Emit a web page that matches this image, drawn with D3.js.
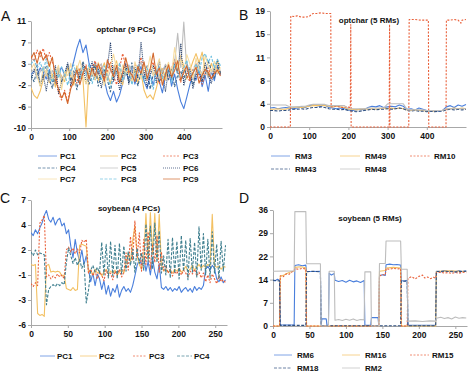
<!DOCTYPE html>
<html><head><meta charset="utf-8">
<script src="https://cdn.jsdelivr.net/npm/d3@7"></script>
<style>body{margin:0;background:#fff;} svg{display:block;} text{font-family:"Liberation Sans",Arial,sans-serif;}</style>
</head><body><svg id="c" width="474" height="380"></svg>
<script>
// ---------- Panel A: optchar (9 PCs), sampled every 8 observations ----------
const optStep = 8;
const optPC1 = [0.5,1.2,0.3,1.8,0.9,-0.4,1.5,0.2,-1.3,0.8,1.9,0.4,2.2,1.0,3.1,5.6,7.4,4.8,6.3,2.7,1.2,2.9,0.6,1.8,-0.5,-3.2,-4.6,-2.8,-4.9,-3.5,-1.2,0.9,-0.3,1.7,-1.4,0.5,2.1,-0.8,-2.3,0.4,-1.6,1.3,-0.9,-3.1,0.2,1.5,-1.8,0.6,-2.4,-4.8,-6.2,-3.9,-1.5,0.8,-0.6,1.4,-1.9,0.3,-2.8,1.1,-0.7,2.3,0.4];
const optPC2 = [-2.1,-3.6,-4.2,-2.8,-0.5,1.2,-1.1,0.6,-2.0,1.4,0.2,-0.9,1.8,0.3,-1.6,2.2,0.8,-0.4,-9.8,1.9,0.4,2.6,-0.7,1.1,2.8,0.5,-1.3,1.6,3.2,0.1,-1.5,2.0,0.6,-0.8,1.5,-1.1,0.9,-2.6,-4.1,-3.5,-4.4,-2.2,0.3,1.7,-0.6,2.4,0.8,3.5,1.2,4.2,2.1,-0.4,1.3,3.1,4.6,2.8,4.9,1.5,0.2,2.7,1.0,3.3,0.6];
const optPC3 = [4.2,3.1,5.3,4.0,5.6,3.4,4.8,2.9,1.2,-3.1,-4.5,-2.6,-4.9,-1.8,0.5,-1.2,1.6,0.2,2.4,-0.7,1.9,3.2,0.6,2.5,-0.4,1.1,3.0,0.3,-1.5,1.8,4.6,2.2,0.9,-0.6,2.7,1.3,3.9,0.4,-0.8,1.6,2.9,0.1,-1.3,0.8,2.2,-0.5,1.7,3.4,0.6,-1.0,1.9,0.3,-0.9,1.5,2.6,0.2,-1.4,0.7,1.8,-0.3,0.9,1.6,0.5];
const optPC4 = [0.3,-0.9,1.5,-1.7,0.6,2.1,-0.4,-2.2,0.9,1.8,-1.1,0.4,2.5,-0.8,1.2,-2.5,0.7,3.1,1.0,-1.4,0.2,2.3,-1.8,0.5,1.4,-0.6,-2.9,0.8,2.0,-1.2,0.3,1.6,-0.9,2.8,0.1,-1.7,1.1,-0.3,2.2,-2.4,0.6,1.3,-1.0,0.9,2.4,-0.5,1.7,-1.9,0.4,1.2,-0.8,2.6,0.0,-1.5,1.0,2.9,-0.7,0.5,3.2,1.4,-0.2,2.1,0.8];
const optPC5 = [0.8,1.6,-0.3,1.1,2.0,0.4,-0.8,1.3,0.2,1.9,-0.5,0.7,2.3,1.0,-0.2,1.5,0.3,2.1,0.9,-0.7,1.4,0.1,1.8,2.6,0.5,-0.4,1.2,2.2,0.6,1.7,-0.9,0.8,2.4,1.1,0.0,1.6,2.9,0.7,-0.6,1.3,0.4,2.0,-0.3,1.0,2.5,1.5,0.2,2.8,8.6,1.9,10.8,1.2,0.5,-0.5,1.1,2.0,0.3,1.4,-0.2,0.9,1.7,0.6,1.2];
const optPC6 = [-0.5,1.2,2.4,-1.6,0.3,-2.7,1.1,-0.9,2.2,-3.2,-1.0,0.6,2.8,-1.8,0.4,1.6,-0.3,2.5,-1.2,0.9,3.0,-0.6,1.7,-2.1,0.5,2.0,6.8,-0.8,1.3,-2.6,0.2,2.7,-1.4,0.7,1.9,-0.2,6.9,1.0,-1.9,0.4,2.3,-1.1,3.2,0.1,-2.8,1.5,-0.4,2.6,0.8,6.6,-1.7,0.6,1.8,-2.3,0.3,1.2,-0.9,2.9,0.5,-1.3,1.6,3.4,0.7];
const optPC7 = [1.5,2.6,0.2,-1.8,1.9,0.7,3.1,-0.5,0.9,2.3,-2.5,1.0,0.3,2.7,-0.9,1.4,3.3,0.5,-1.4,2.1,0.8,-0.6,2.9,1.2,-1.7,0.4,2.2,4.5,1.6,-0.3,2.4,0.6,1.8,-1.2,3.0,0.9,-0.4,2.5,1.1,4.1,0.2,1.7,3.6,-0.8,1.3,2.9,0.5,5.8,2.0,3.4,1.0,4.4,2.6,-0.2,3.7,1.4,0.3,4.2,2.2,1.0,3.1,0.8,1.9];
const optPC8 = [2.5,3.4,1.8,2.9,1.2,3.6,0.4,-1.0,1.5,-0.2,2.0,0.7,-1.6,1.1,2.4,0.3,-0.8,1.9,0.5,2.6,-1.3,0.8,1.6,-0.5,2.2,0.1,-2.0,1.3,0.6,2.8,-0.7,1.0,1.9,-1.5,0.4,2.3,0.9,-0.9,1.7,0.2,-2.4,1.2,2.0,-0.3,0.8,1.5,-1.1,2.4,0.5,-0.6,1.8,3.3,-0.4,1.1,2.6,0.7,3.8,4.6,2.9,4.1,1.8,3.5,2.2];
const optPC9 = [3.6,4.8,2.7,5.1,3.3,4.4,2.1,3.9,-0.6,-2.4,-4.1,-3.0,-5.2,-2.3,-0.9,1.4,-1.5,0.8,2.0,-0.4,1.7,0.2,2.6,1.0,-0.8,3.4,1.5,0.1,2.3,-1.1,0.9,3.8,1.2,0.4,-0.9,2.1,0.7,3.0,-0.3,1.6,4.7,0.5,1.8,-1.6,0.6,2.4,0.0,1.3,3.2,-0.7,1.0,2.2,-0.5,0.8,1.9,-1.2,0.4,1.5,0.9,-0.3,0.6,1.4,0.2];
const optNamesA = ["PC1","PC2","PC3","PC4","PC5","PC6","PC7","PC8","PC9"];
const aYTicks = [-10,-5.8,-1.6,2.6,6.8,11];
const aXTicks = [0,100,200,300,400];

// ---------- Panel B: optchar (5 RMs), sampled every 10 observations ----------
const rmStep = 10;
const optRM3  = [3.1,3.2,3.0,3.1,3.2,3.1,3.0,3.1,3.3,3.2,3.5,3.6,3.5,3.4,3.6,3.2,3.1,3.0,3.1,3.0,2.8,2.7,2.8,2.9,2.8,3.2,3.4,3.3,3.5,3.2,3.3,3.4,3.3,3.6,3.4,2.9,3.0,2.8,3.1,2.9,2.7,2.6,2.7,2.6,2.7,3.3,3.5,3.2,3.6,3.4,3.7];
const optRM49 = [2.9,2.9,3.0,2.9,2.9,3.1,3.2,3.3,3.2,3.3,3.4,3.5,3.5,3.6,3.5,3.4,3.3,3.4,3.3,3.2,2.9,2.9,2.8,2.9,3.0,2.9,3.0,2.9,3.0,3.1,3.0,3.1,3.0,3.1,3.0,2.8,2.7,2.8,2.7,2.7,2.6,2.7,2.6,2.7,2.7,2.9,3.0,3.1,3.0,3.1,3.0];
const optRM43 = [2.7,2.7,2.6,2.7,2.7,2.8,2.9,2.9,3.0,2.9,3.1,3.2,3.2,3.3,3.2,3.0,2.9,2.9,2.8,2.9,2.7,2.6,2.5,2.6,2.7,2.8,2.9,2.8,2.9,2.9,3.0,2.9,3.0,3.1,3.0,2.7,2.6,2.7,2.6,2.6,2.5,2.6,2.5,2.6,2.6,2.8,2.9,2.8,2.9,2.8,2.9];
const optRM48 = [3.6,3.6,3.6,3.6,3.6,3.3,3.3,3.3,3.4,3.4,3.6,3.7,3.7,3.7,3.7,3.5,3.5,3.5,3.5,3.5,3.0,3.0,3.0,3.0,3.0,3.1,3.1,3.1,3.1,3.1,3.8,3.8,3.8,3.8,3.8,2.8,2.8,2.8,2.8,2.8,2.7,2.7,2.7,2.7,2.7,3.0,3.0,3.0,3.0,3.0,3.0];
// RM10 given as [observation, value] pairs (step-like series)
const optRM10 = [[0,0],[52,0],[53,18.2],[60,18.1],[70,18.2],[80,18.0],[90,18.0],[100,18.1],[105,18.4],[110,18.6],[120,18.6],[130,18.7],[140,18.6],[155,18.6],[156,3.3],[170,3.4],[185,3.2],[195,3.3],[205,3.2],[206,16.8],[207,0],[304,0],[305,16.8],[306,0],[354,0],[355,17.6],[370,17.6],[385,17.5],[404,17.5],[405,0],[449,0],[450,17.5],[460,17.5],[470,17.6],[480,17.5],[487,17.0],[490,17.5],[500,17.6]];
const bYTicks = [0,3.8,7.6,11.4,15.2,19];
const bXTicks = [0,100,200,300,400];

// ---------- Panel C: soybean (4 PCs), sampled every 3 observations ----------
const soyStep = 3;
const soyPC1 = [3.6,3.3,3.9,3.5,4.1,4.6,5.4,5.9,5.0,4.7,5.2,4.4,4.9,5.1,4.3,4.6,3.5,3.9,2.2,1.0,2.9,1.5,0.6,1.8,0.3,1.2,-0.2,-1.5,-0.6,-1.9,-0.7,-1.2,-2.3,-1.4,-2.8,-1.9,-3.0,-2.2,-2.6,-1.8,-3.1,-2.4,-2.0,-2.5,-2.2,-2.6,-1.9,-0.9,0.2,0.8,0.3,1.1,-0.4,0.6,-0.8,0.9,-0.5,-1.2,0.4,-2.1,-2.3,-2.0,-2.4,-2.1,-2.5,-2.2,-2.4,-2.0,-2.6,-2.3,-2.1,-2.5,-2.2,-2.6,-2.0,-2.4,-2.1,-2.3,-1.9,-0.2,0.1,-0.3,0.2,-0.1,-1.2,-1.5,-1.0,-1.6,-1.3];
const soyPC2 = [0.3,0.2,0.3,-4.8,-5.0,-4.9,-5.1,0.2,0.3,-0.5,-0.4,-0.5,-0.4,-0.5,-0.9,-0.8,-2.2,-2.3,-2.4,-2.1,-2.4,-2.3,2.3,2.4,2.3,2.2,-0.5,-0.3,-0.8,-0.2,-0.6,-0.4,-0.9,-0.5,-0.2,-0.7,-0.4,-0.6,-0.3,-0.8,-0.5,-0.2,-0.6,0.4,1.5,0.6,2.8,4.3,1.2,0.3,-0.2,1.0,5.6,0.8,5.7,1.4,5.6,0.9,5.5,0.2,-0.4,-0.2,-0.5,-0.3,-0.6,-0.2,-0.4,-0.1,-0.5,-0.3,0.1,-0.4,-0.2,0.2,-0.3,0.0,0.3,-0.1,0.2,0.0,0.3,0.1,5.5,0.2,0.0,0.1,-0.2,0.1,0.0];
const soyPC3 = [-1.7,-2.0,-1.6,-1.9,4.6,4.9,5.4,-1.0,-0.8,-1.2,-0.9,-1.1,-0.7,-1.0,-0.8,-1.2,1.8,2.1,1.6,2.0,1.4,1.9,1.5,2.8,2.6,2.9,-0.6,-0.2,-0.9,-0.4,-1.2,-0.5,-0.8,-1.4,-0.3,-0.9,-0.6,-1.3,-0.4,-0.8,-0.2,-1.0,-0.5,1.5,-0.3,3.2,0.8,4.8,1.0,3.6,-0.4,2.9,0.3,3.7,-0.2,2.4,0.5,3.3,-0.5,1.6,-0.3,0.2,-0.6,-0.2,-0.9,-0.4,-0.7,-0.1,-0.8,-0.3,-0.6,-1.0,-0.4,-0.7,-0.2,-0.9,-0.5,-1.1,-0.6,-1.5,-0.8,-1.6,-0.7,-1.2,-1.7,-0.9,-1.5,-1.3,-1.6];
const soyPC4 = [1.6,1.2,1.8,1.3,1.5,1.4,1.3,-3.9,-2.3,-2.0,-1.8,-2.0,-1.7,-1.9,-1.6,-1.8,0.5,2.0,1.2,0.4,1.0,0.2,0.8,-0.1,0.5,-3.7,-2.4,-0.3,0.2,-0.5,0.0,-0.6,2.6,-0.8,2.4,-1.1,2.7,-0.9,2.3,-1.2,2.5,-0.7,2.2,-0.4,1.6,0.2,1.9,-0.5,2.0,0.4,1.5,-0.3,4.5,0.6,4.3,-0.2,4.6,0.5,3.8,-0.6,1.2,-0.8,2.9,-1.1,3.1,-0.6,2.7,-1.2,3.3,-0.4,2.8,-1.3,3.0,-0.5,2.6,-1.0,4.2,-0.3,3.5,-0.8,2.9,-1.1,3.7,-0.6,2.4,-1.2,2.7,-0.4,2.3];
const cYTicks = [-6,-3.4,-0.8,1.8,4.4,7];
const cXTicks = [0,50,100,150,200,250];

// ---------- Panel D: soybean (5 RMs), [observation, value] pairs ----------
const soyRM6 = [[0,14.3],[3,14.0],[6,14.5],[9,14.2],[10,0.3],[29,0.3],[30,18.8],[35,19.0],[40,18.7],[45,18.9],[46,17.0],[55,16.9],[65,17.0],[66,0.2],[67,2.2],[73,2.2],[74,0.2],[76,0.2],[77,16.4],[80,15.8],[84,16.3],[85,14.2],[90,13.8],[95,14.1],[100,13.6],[105,14.2],[110,13.7],[115,14.0],[120,13.5],[125,14.1],[126,0.2],[134,0.2],[135,2.6],[144,2.6],[145,0.3],[146,15.6],[150,15.9],[154,15.7],[155,19.0],[160,19.2],[165,19.0],[170,19.1],[175,18.9],[176,14.1],[180,13.9],[184,14.2],[185,0.2],[223,0.2],[224,17.0],[230,16.8],[235,17.2],[240,16.9],[245,17.1],[250,16.8],[255,17.2],[260,16.9],[265,17.1]];
const soyRM16 = [[0,0],[9,0],[10,15.4],[15,15.8],[20,16.4],[25,16.9],[29,17.0],[30,18.2],[38,18.4],[45,18.1],[46,0],[145,0],[146,17.0],[154,17.2],[155,18.0],[165,18.2],[175,18.0],[176,0],[223,0],[224,16.9],[240,17.1],[265,16.9]];
const soyRM15 = [[0,0],[9,0],[10,15.6],[14,15.3],[18,16.2],[22,16.0],[26,16.8],[29,17.2],[30,17.8],[35,17.6],[40,17.9],[45,17.7],[46,0],[145,0],[146,15.5],[150,16.0],[154,15.8],[155,17.8],[160,17.6],[165,17.9],[170,17.7],[175,17.8],[176,0],[184,0],[185,14.8],[190,15.3],[195,14.6],[200,15.4],[205,15.8],[208,14.9],[212,15.2],[216,14.7],[220,15.1],[223,14.8],[224,16.5],[230,16.7],[235,16.4],[240,16.6],[245,16.3],[250,16.6],[255,16.4],[260,16.7],[265,16.5]];
const soyRM18 = [[0,14.2],[9,14.0],[10,0.2],[45,0.2],[46,16.8],[55,17.0],[65,16.8],[66,0.1],[175,0.1],[176,14.0],[184,13.9],[185,0.1],[223,0.1],[224,16.9],[235,17.0],[250,16.8],[265,17.0]];
const soyRM2 = [[0,17.0],[29,17.1],[30,35.5],[45,35.5],[46,19.3],[65,19.3],[66,0],[76,0],[77,17.0],[84,17.0],[85,1.8],[90,2.0],[95,1.7],[100,2.1],[105,1.8],[110,2.2],[115,1.7],[120,2.0],[125,1.9],[126,16.8],[134,16.8],[135,0],[145,0],[146,19.4],[154,19.4],[155,26.4],[175,26.4],[176,17.6],[184,17.6],[185,1.5],[195,1.6],[205,1.4],[215,1.6],[223,1.5],[224,2.4],[230,2.7],[235,2.3],[240,2.6],[245,2.2],[250,2.8],[255,2.4],[260,2.6],[265,2.5]];
const dYTicks = [0,7.2,14.4,21.6,28.8,36];
const dXTicks = [0,50,100,150,200,250];

// ---------- styles ----------
const C = {
  blue:"#4a7fdc", yellow:"#f3c062", red:"#e9603a", slate:"#3f6a8e", gray:"#bdbdbd",
  navy:"#1f3a68", lyellow:"#f6dca0", teal:"#6cc0e0", brown:"#d2692f", dteal:"#3f7f8f", dblue:"#2f4f7f"
};
const toPts = (arr, step) => arr.map((v,i)=>[i*step, v]);

const svg = d3.select("#c");
let clipN = 0;
function drawPanel(p) {
  const x = d3.scaleLinear().domain(p.xDomain).range([p.left, p.right]);
  const y = d3.scaleLinear().domain(p.yDomain).range([p.bottom, p.top]);
  const g = svg.append("g");
  const id = "clip" + (clipN++);
  svg.append("clipPath").attr("id", id).append("rect")
    .attr("x", p.left).attr("y", p.top - 3).attr("width", p.right - p.left + 2).attr("height", p.bottom - p.top + 4);
  const ya = g.append("g").attr("transform", `translate(${p.left},0)`)
    .call(d3.axisLeft(y).tickValues(p.yTicks).tickSize(3).tickSizeOuter(0).tickPadding(2).tickFormat(d => String(Math.round(d))));
  const xa = g.append("g").attr("transform", `translate(0,${p.bottom})`)
    .call(d3.axisBottom(x).tickValues(p.xTicks).tickSize(3).tickSizeOuter(0).tickPadding(3).tickFormat(d => String(d)));
  [ya, xa].forEach(a => {
    a.attr("font-size", 8.5).attr("font-weight", "bold").attr("font-family", '"Liberation Sans",Arial,sans-serif');
    a.selectAll("path,line").attr("stroke", "#a8a8a8");
    a.selectAll("text").attr("fill", "#111");
  });
  const line = d3.line().x(d => x(d[0])).y(d => y(d[1]));
  const lg = g.append("g").attr("clip-path", `url(#${id})`);
  p.series.forEach(s => {
    lg.append("path").attr("d", line(s.pts)).attr("fill", "none")
      .attr("stroke", s.color).attr("stroke-width", s.w || 1.1)
      .attr("stroke-dasharray", s.dash || null).attr("stroke-linejoin", "round");
  });
  g.append("text").attr("x", p.titleX).attr("y", p.titleY).attr("text-anchor", "middle")
    .attr("font-size", 8).attr("font-weight", "bold").attr("fill", "#111").text(p.title);
  g.append("text").attr("x", p.letterX).attr("y", p.letterY).attr("font-size", 14).attr("fill", "#111").text(p.letter);
  // legend
  p.series.forEach((s, i) => {
    const L = p.legend[i];
    g.append("line").attr("x1", L[0]).attr("x2", L[1]).attr("y1", L[3] - 3).attr("y2", L[3] - 3)
      .attr("stroke", s.color).attr("stroke-width", 1).attr("stroke-opacity", 0.7).attr("stroke-dasharray", s.dash || null);
    g.append("text").attr("x", L[2]).attr("y", L[3]).attr("font-size", 8).attr("font-weight", "bold")
      .attr("fill", "#111").text(s.name);
  });
}

// Panel A
const aSeriesData = [optPC1,optPC2,optPC3,optPC4,optPC5,optPC6,optPC7,optPC8,optPC9];
const aStyles = [
  {color:C.blue},{color:C.yellow},{color:C.red,dash:"2,1.5"},{color:C.slate,dash:"3,1.5"},
  {color:C.gray},{color:C.navy,dash:"1,1"},{color:C.lyellow},{color:C.teal,dash:"3,1.5"},{color:C.brown}
];
drawPanel({
  xDomain:[0,500], yDomain:[-10,11], left:31, right:222, top:21, bottom:128,
  yTicks:aYTicks, xTicks:aXTicks, title:"optchar (9 PCs)", titleX:126, titleY:32,
  letter:"A", letterX:1, letterY:21,
  series: aSeriesData.map((v,i)=>Object.assign({name:optNamesA[i], pts:toPts(v,optStep)}, aStyles[i])),
  legend:[[38,57,60,159],[100,118,121,159],[163,180,183,159],[38,57,60,171],[100,118,121,171],[163,180,183,171],[38,57,60,182],[100,118,121,182],[163,180,183,182]]
});

// Panel B
drawPanel({
  xDomain:[0,500], yDomain:[0,19], left:270, right:466, top:11, bottom:127,
  yTicks:bYTicks, xTicks:bXTicks, title:"optchar (5 RMs)", titleX:369, titleY:23,
  letter:"B", letterX:239, letterY:20,
  series:[
    {name:"RM3", pts:toPts(optRM3,rmStep), color:C.blue},
    {name:"RM49", pts:toPts(optRM49,rmStep), color:C.yellow},
    {name:"RM10", pts:optRM10, color:C.red, dash:"2,1.5"},
    {name:"RM43", pts:toPts(optRM43,rmStep), color:C.dblue, dash:"3,1.5"},
    {name:"RM48", pts:toPts(optRM48,rmStep), color:C.gray}
  ],
  legend:[[271,290,295,159],[340,360,365,159],[410,430,434,159],[271,290,295,172],[340,360,365,172]]
});

// Panel C
drawPanel({
  xDomain:[0,266], yDomain:[-6,7], left:31, right:227, top:200, bottom:325,
  yTicks:cYTicks, xTicks:cXTicks, title:"soybean (4 PCs)", titleX:129, titleY:211,
  letter:"C", letterX:0, letterY:203,
  series:[
    {name:"PC1", pts:toPts(soyPC1,soyStep), color:C.blue},
    {name:"PC2", pts:toPts(soyPC2,soyStep), color:C.yellow},
    {name:"PC3", pts:toPts(soyPC3,soyStep), color:C.red, dash:"2,1.5"},
    {name:"PC4", pts:toPts(soyPC4,soyStep), color:C.dteal, dash:"3,1.5"}
  ],
  legend:[[40,55,57,359],[80,97,99,359],[133,147,149,359],[177,192,194,359]]
});

// Panel D
drawPanel({
  xDomain:[0,266], yDomain:[0,36], left:273, right:467, top:210, bottom:326,
  yTicks:dYTicks, xTicks:dXTicks, title:"soybean (5 RMs)", titleX:370, titleY:221,
  letter:"D", letterX:239, letterY:203,
  series:[
    {name:"RM6", pts:soyRM6, color:C.blue},
    {name:"RM16", pts:soyRM16, color:C.yellow},
    {name:"RM15", pts:soyRM15, color:C.red, dash:"2,1.5"},
    {name:"RM18", pts:soyRM18, color:C.dblue, dash:"3,1.5"},
    {name:"RM2", pts:soyRM2, color:C.gray}
  ],
  legend:[[274,292,297,358],[342,360,365,358],[410,429,432,358],[274,292,297,371],[342,360,365,371]]
});
</script></body></html>
